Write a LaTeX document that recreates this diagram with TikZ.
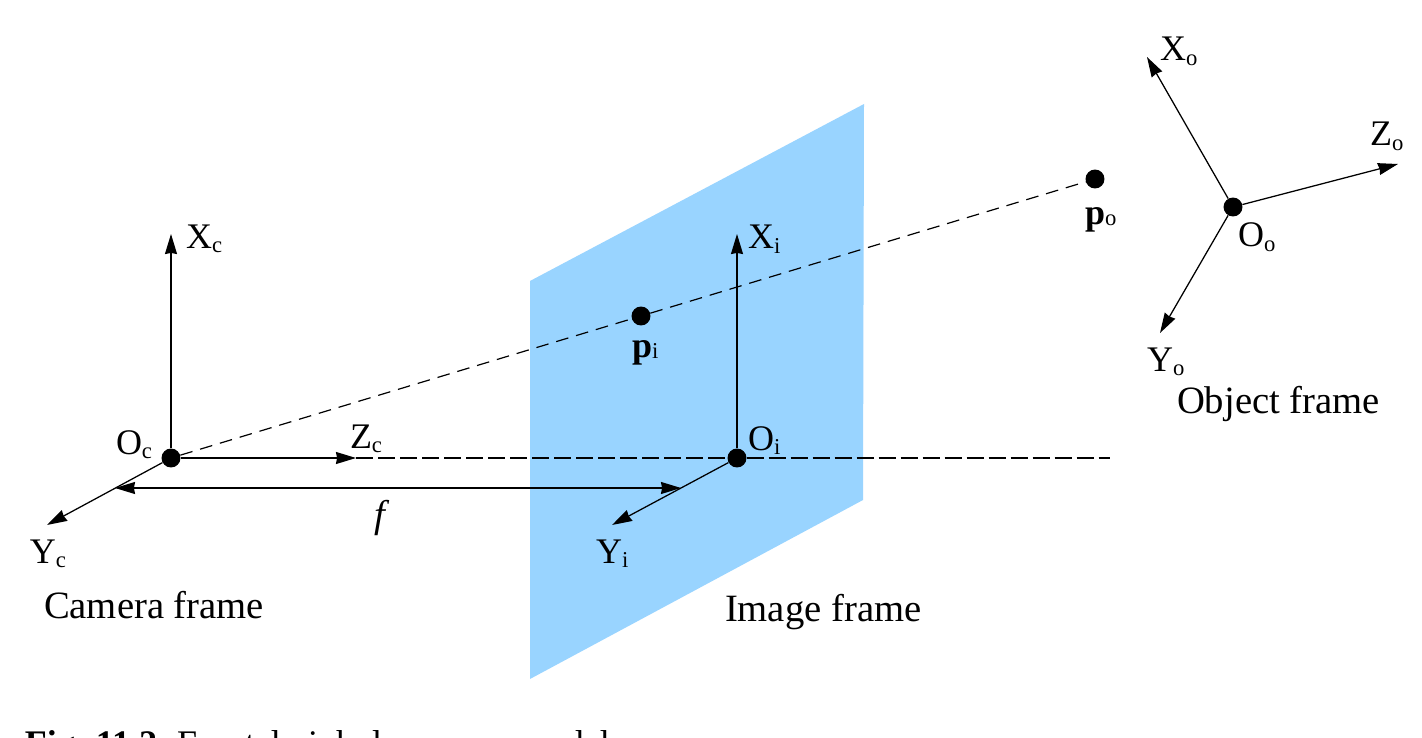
\documentclass[tikz,border=0pt]{standalone}
\usepackage{fontspec}
\setmainfont{Liberation Serif}
\usetikzlibrary{arrows.meta}
\newcommand{\lb}[2]{{\fontsize{27}{30}\selectfont #1}\raisebox{-3.5pt}{\fontsize{17}{20}\selectfont #2}}
\newcommand{\pb}[2]{{\fontsize{27}{30}\selectfont\bfseries #1}\raisebox{-0.5pt}{\fontsize{17}{20}\selectfont #2}}
\tikzset{
  blackdot/.style={circle,fill=black,inner sep=0pt,minimum size=14.2pt},
  txt/.style={anchor=base west,inner sep=0pt,outer sep=0pt},
  framelabel/.style={txt,font=\fontsize{29}{32}\selectfont},
  axisline/.style={line width=0.95pt,-{Stealth[length=15pt,width=9pt,inset=0.8pt]}},
  biline/.style={line width=0.95pt,{Stealth[length=15pt,width=9pt,inset=0.8pt]}-{Stealth[length=15pt,width=9pt,inset=0.8pt]}},
  shortdash/.style={line width=0.9pt,dash pattern=on 9.5pt off 6pt},
  longdash/.style={line width=0.9pt,dash pattern=on 13pt off 3.5pt}
}
\definecolor{planeblue}{RGB}{153,212,255}
\begin{document}
\begin{tikzpicture}[x=0.75pt,y=-0.75pt]
\path[use as bounding box,clip] (0,0) rectangle (1422,738);
\fill[white] (0,0) rectangle (1422,738);
\fill[planeblue] (530,281) -- (864,104) -- (863,500) -- (530,679) -- cycle;
% points
\node[blackdot] (Oc) at (171,458) {};
\node[blackdot] (Oi) at (737,458) {};
\node[blackdot] (pi) at (641,316) {};
\node[blackdot] (po) at (1095,179) {};
\node[blackdot] (Oo) at (1233,207) {};
% free ends
\coordinate (Xct) at (171,234);
\coordinate (Zct) at (356,458);
\coordinate (Yct) at (47,525);
\coordinate (Xit) at (737,234);
\coordinate (Yit) at (612,525);
\coordinate (Xot) at (1147,57);
\coordinate (Zot) at (1398,164);
\coordinate (Yot) at (1160,333);
\coordinate (fl) at (115,488);
\coordinate (fr) at (681,488);
\coordinate (zend) at (1110,458);
% dashed
\draw[longdash] (Zct) -- (Oi);
\draw[longdash] (Oi) -- (zend);
\draw[shortdash] (Oc) -- (pi);
\draw[shortdash] (pi) -- (po);
% axes
\draw[axisline] (Oc) -- (Xct);
\draw[axisline] (Oc) -- (Zct);
\draw[axisline] (Oc) -- (Yct);
\draw[axisline] (Oi) -- (Xit);
\draw[axisline] (Oi) -- (Yit);
\draw[axisline] (Oo) -- (Xot);
\draw[axisline] (Oo) -- (Zot);
\draw[axisline] (Oo) -- (Yot);
\draw[biline] (fl) -- (fr);
% labels
\node[txt] (lXc) at (186,248) {\lb{X}{c}};
\node[txt] (lOc) at (116,454) {\lb{O}{c}};
\node[txt] (lZc) at (350,448) {\lb{Z}{c}};
\node[txt] (lYc) at (30,563) {\lb{Y}{c}};
\node[txt,font=\fontsize{29}{32}\selectfont\itshape] (lf) at (374,527) {f};
\node[txt] (lXi) at (748,249) {\lb{X}{i}};
\node[txt] (lOi) at (748,450) {\lb{O}{i}};
\node[txt] (lYi) at (596,563) {\lb{Y}{i}};
\node[txt] (lpi) at (632,358) {\pb{p}{i}};
\node[txt] (lpo) at (1085,225) {\pb{p}{o}};
\node[txt] (lOo) at (1238,247) {\lb{O}{o}};
\node[txt] (lXo) at (1160,61) {\lb{X}{o}};
\node[txt] (lZo) at (1370,146) {\lb{Z}{o}};
\node[txt] (lYo) at (1147,371) {\lb{Y}{o}};
\node[framelabel] (cam) at (44,618) {Camera frame};
\node[framelabel] (img) at (725,621) {Image frame};
\node[framelabel] (obj) at (1177,413) {Object frame};
\node[txt,font=\fontsize{27}{30}\selectfont] (capa) at (25,755) {\bfseries Fig. 11.2.};
\node[txt,font=\fontsize{27}{30}\selectfont] (capb) at (177,755) {Frontal pinhole camera model};
\end{tikzpicture}
\end{document}
